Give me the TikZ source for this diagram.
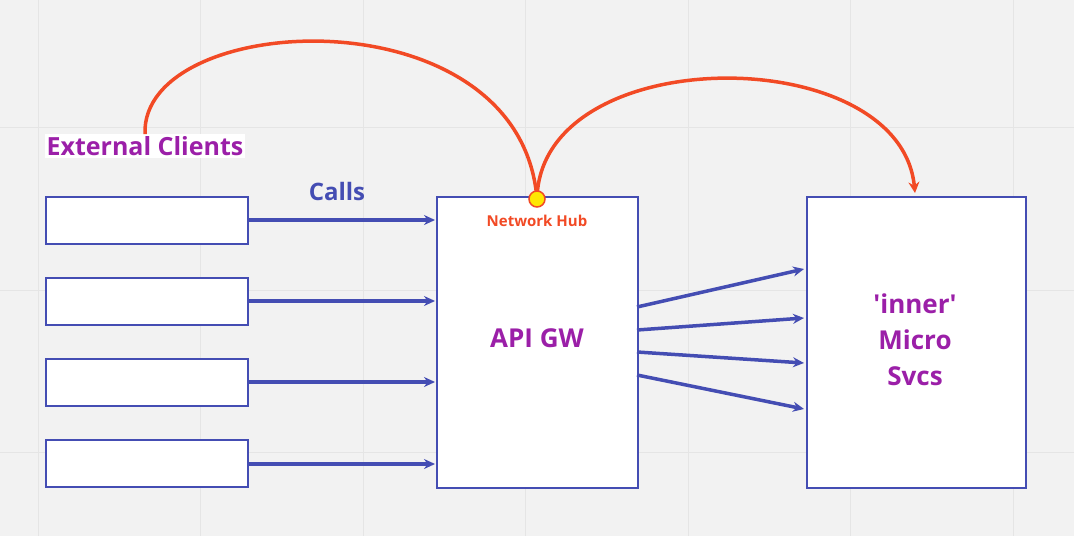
\documentclass[tikz,border=0pt]{standalone}
\usepackage{fontspec}
\setmainfont{Open Sans}
\usetikzlibrary{arrows.meta}
\definecolor{bl}{HTML}{444DB3}
\definecolor{pu}{HTML}{9B1FA8}
\definecolor{orr}{HTML}{F24A25}
\begin{document}
\begin{tikzpicture}[x=1pt,y=-1pt,
 box/.style={draw=bl,line width=2pt,fill=white},
 ar/.style={draw=bl,line width=3.5pt,-{Stealth[length=11pt,width=10pt]}},
 lab/.style={font=\bfseries,text=pu}]
\fill[gray!10] (0,0) rectangle (1074,536);
\useasboundingbox (0,0) rectangle (1074,536);
\foreach \x in {38,200,363,525,688,850,1013} \draw[gray!20,line width=0.8pt] (\x,0)--(\x,536);
\foreach \y in {127,290,452} \draw[gray!20,line width=0.8pt] (0,\y)--(1074,\y);
\node[box,minimum width=202pt,minimum height=47pt,anchor=north west] (c1) at (45,196) {};
\node[box,minimum width=202pt,minimum height=47pt,anchor=north west] (c2) at (45,277) {};
\node[box,minimum width=202pt,minimum height=47pt,anchor=north west] (c3) at (45,358) {};
\node[box,minimum width=202pt,minimum height=47pt,anchor=north west] (c4) at (45,439) {};
\node[box,minimum width=201pt,minimum height=291pt,anchor=north west] (gw) at (436,196) {};
\node[box,minimum width=219pt,minimum height=291pt,anchor=north west] (ms) at (806,196) {};
\node[lab,font=\bfseries\fontsize{26}{30}\selectfont] at (537,338) {API GW};
\node[lab,font=\bfseries\fontsize{26}{36}\selectfont,align=center] at (915,340) {\textquotesingle inner\textquotesingle\\Micro\\Svcs};
\node[lab,fill=white,inner sep=2pt,font=\bfseries\fontsize{25}{28}\selectfont] (ext) at (145,146) {External Clients};
\node[text=bl,font=\bfseries\fontsize{24}{28}\selectfont] at (337,191) {Calls};
\node[text=orr,font=\bfseries\fontsize{15}{18}\selectfont] at (537,221) {Network Hub};
\foreach \i/\y in {1/220,2/301,3/382,4/464} \draw[ar] (c\i.east|-0,\y) -- (435,\y);
\draw[ar] (637,307)--(804,269);
\draw[ar] (637,330)--(804,318);
\draw[ar] (637,352)--(804,363);
\draw[ar] (637,375)--(804,409);
\coordinate (hubc) at (537,199);
\draw[orr,line width=3.5pt] (ext.north) .. controls (140,10) and (520,-10) .. (hubc);
\draw[orr,line width=3.5pt,-{Stealth[length=11pt,width=11pt]}] (hubc) .. controls (540,40) and (900,40) .. (915,193);
\node[circle,fill=yellow!90!orange,draw=orr,line width=1.5pt,minimum size=16pt,inner sep=0] (hub) at (hubc) {};
\end{tikzpicture}
\end{document}
